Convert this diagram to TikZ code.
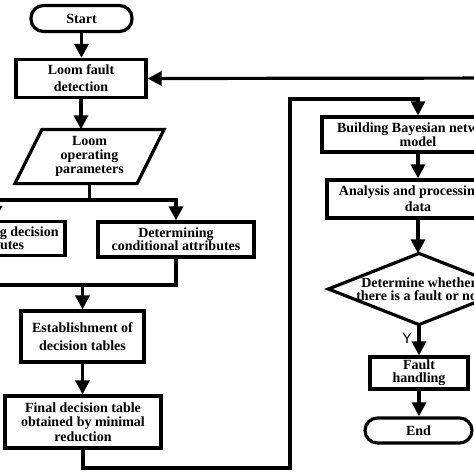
\documentclass[tikz,border=0pt]{standalone}
\usepackage{fontspec}
\setmainfont{Liberation Serif}
\newfontfamily\ysans{Liberation Sans}
\usetikzlibrary{arrows.meta,calc}
\begin{document}
\begin{tikzpicture}[x=1pt,y=-1pt,line width=3.2pt,line join=miter,
  box/.style={draw,rectangle,align=center,inner sep=0pt,font=\bfseries\fontsize{14}{17}\selectfont},
  term/.style={box,rounded corners=12.5pt},
  arr/.style={-{Triangle[width=14pt,length=14pt]}}]
\useasboundingbox (0,0) rectangle (474,474);
\clip (0,0) rectangle (474,474);
% left column
\node[term,minimum width=101pt,minimum height=26pt] (start) at (81.5,18.5) {Start};
\node[box,minimum width=130pt,minimum height=38pt] (lf) at (81,78.5) {Loom fault\\detection};
\node[box,draw=none,minimum width=119pt,minimum height=51pt,font=\bfseries\fontsize{14}{14}\selectfont] (para) at (89.5,156.5) {Loom\\operating\\parameters};
\draw ($(para.north west)+(13.5,0)$) -- ($(para.north east)+(13.5,0)$) -- ($(para.south east)+(-13.5,0)$) -- ($(para.south west)+(-13.5,0)$) -- cycle;
\node[box,minimum width=140pt,minimum height=34pt,font=\bfseries\fontsize{14}{13}\selectfont] (dec) at (-5,238.5) {Determining decision\\attributes};
\node[box,minimum width=156pt,minimum height=35pt,font=\bfseries\fontsize{14}{13}\selectfont] (cond) at (176,239.5) {Determining\\conditional attributes};
\node[box,minimum width=123pt,minimum height=51pt,font=\bfseries\fontsize{14}{17.5}\selectfont] (est) at (82.5,336.5) {Establishment of\\decision tables};
\node[box,minimum width=156pt,minimum height=52pt,font=\bfseries\fontsize{14}{14.5}\selectfont] (fin) at (83,422) {Final decision table\\obtained by minimal\\reduction};
% right column
\node[box,minimum width=192pt,minimum height=35pt,font=\bfseries\fontsize{14}{12}\selectfont] (build) at (418,134.5) {Building Bayesian network\\model};
\node[box,minimum width=182pt,minimum height=38pt,font=\bfseries\fontsize{14}{16}\selectfont] (ana) at (418,199) {Analysis and processing of\\data};
\node[box,draw=none,minimum width=178pt,minimum height=68pt,font=\bfseries\fontsize{14}{12.5}\selectfont] (dia) at (419,289) {Determine whether\\there is a fault or not};
\draw (dia.north) -- (dia.east) -- (dia.south) -- (dia.west) -- cycle;
\node[box,minimum width=98pt,minimum height=32pt,font=\bfseries\fontsize{14}{13}\selectfont] (fh) at (419,373) {Fault\\handling};
\node[term,minimum width=107pt,minimum height=25pt] (end) at (418.5,430.5) {End};
\node[font=\ysans\fontsize{15}{15}\selectfont,inner sep=0pt] (ylab) at (407,338.5) {Y};
% coordinates
\coordinate (sp) at (89.5,200);
\coordinate (mg) at (82.5,285);
\coordinate (c1) at (290,468);
\coordinate (c2) at (290,99);
\coordinate (n1) at (540,289);
\coordinate (n2) at (540,78);
% connectors
\draw[arr] (start.south) -- (start.south |- lf.north);
\draw[arr] (lf.south) -- (lf.south |- para.north);
\draw (para.south) -- (sp);
\draw[arr] (sp) -| (cond.north);
\draw[arr] (sp) -| (dec.north);
\draw (cond.south) |- (mg);
\draw (dec.south) |- (mg);
\draw[arr] (mg) -- (est.north);
\draw[arr] (est.south) -- (est.south |- fin.north);
\draw[arr] (fin.south) |- (c1) -- (c2) -| (build.north);
\draw[arr] (build.south) -- (ana.north);
\draw[arr] (ana.south) -- (ana.south |- dia.north);
\draw[arr] (dia.south) -- (dia.south |- fh.north);
\draw[arr] (fh.south) -- (fh.south |- end.north);
\draw[arr] (dia.east) -- (n1) -- (n2) -- (lf.east);
\end{tikzpicture}
\end{document}
